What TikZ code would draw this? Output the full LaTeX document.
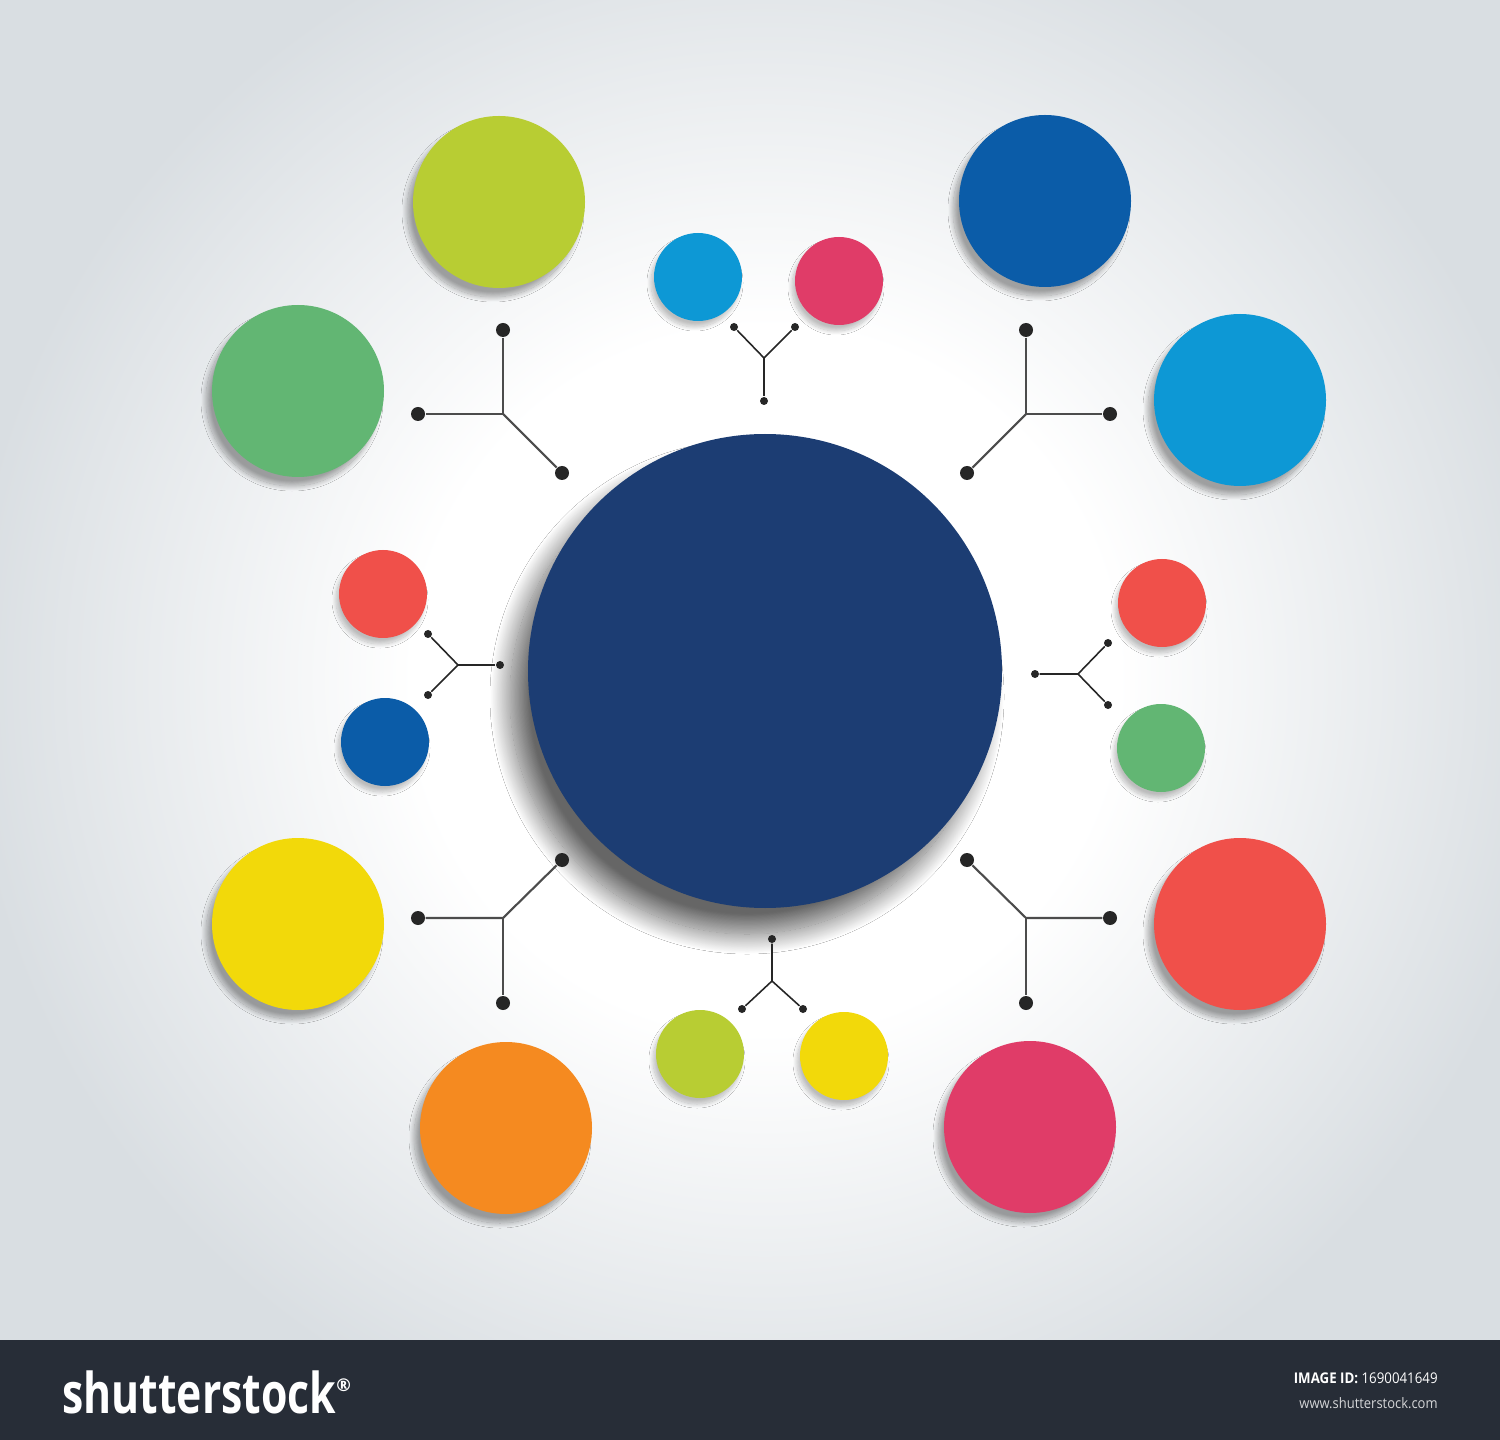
\documentclass[tikz,border=0pt]{standalone}
\usepackage{fontspec}
\setmainfont{Open Sans}
\usetikzlibrary{positioning,shadows,shadows.blur}
\definecolor{bggray}{HTML}{D9DEE2}
\definecolor{barcol}{HTML}{272D37}
\definecolor{navy}{HTML}{1C3D73}
\definecolor{lime}{HTML}{B8CD33}
\definecolor{dkblue}{HTML}{0B5CA8}
\definecolor{leaf}{HTML}{62B673}
\definecolor{sky}{HTML}{0D98D5}
\definecolor{sun}{HTML}{F2D90A}
\definecolor{tomato}{HTML}{F0504A}
\definecolor{amber}{HTML}{F58A20}
\definecolor{rose}{HTML}{E03C68}
\pgfdeclareradialshading{glow}{\pgfpoint{0bp}{0bp}}{color(0bp)=(white); color(11bp)=(white); color(25bp)=(bggray); color(50bp)=(bggray)}

\begin{document}
\begin{tikzpicture}[x=0.1mm,y=-0.1mm]
\tikzstyle{arc}=[draw=black!70,line width=0.6pt]
\tikzstyle{thinarc}=[draw=black!85,line width=0.45pt]
\tikzstyle{dot}=[circle,fill=black!85,inner sep=0pt,minimum size=1.4mm]
\tikzstyle{tinydot}=[circle,fill=black!85,inner sep=0pt,minimum size=0.8mm]
\tikzstyle{bigc}=[circle,inner sep=0pt,minimum size=17.2mm,blur shadow={shadow xshift=-0.6mm,shadow yshift=-0.9mm,shadow blur radius=0.5mm,shadow blur steps=20,shadow opacity=35}]
\tikzstyle{smallc}=[circle,inner sep=0pt,minimum size=8.8mm,blur shadow={shadow xshift=-0.3mm,shadow yshift=-0.6mm,shadow blur radius=0.4mm,shadow blur steps=16,shadow opacity=25}]
\tikzstyle{hub}=[circle,inner sep=0pt,minimum size=47.4mm,blur shadow={shadow xshift=-1.8mm,shadow yshift=-2.6mm,shadow blur radius=2mm,shadow blur steps=36,shadow opacity=60}]
\useasboundingbox (0,0) rectangle (1500,1440);
%% background %%
\fill[bggray] (0,0) rectangle (1500,1340);
\begin{scope}
\clip (0,0) rectangle (1500,1340);
\shade[shading=glow] (765,680) circle (800);
\end{scope}
\fill[barcol] (0,1340) rectangle (1500,1440);
\node[text=white,anchor=west,font=\fontsize{16}{20}\selectfont\bfseries] at (50,1392) (LOGO) {\scalebox{0.76}[1]{shutterstock}\textsuperscript{\tiny ®}};
\node[text=white,anchor=east,font=\fontsize{4.2}{5}\selectfont] at (1450,1378) (ID) {\scalebox{0.9}[1]{\textbf{IMAGE ID:} 1690041649}};
\node[text=white!80!barcol,anchor=east,font=\fontsize{4.1}{5}\selectfont] at (1450,1403) (WWW) {\scalebox{0.9}[1]{www.shutterstock.com}};
%% circles %%
\node[hub,fill=navy] at (765,671) (C0) {};
\node[bigc,fill=lime] at (499,202) (B1) {};
\node[bigc,fill=dkblue] at (1045,201) (B2) {};
\node[bigc,fill=leaf] at (298,391) (B3) {};
\node[bigc,fill=sky] at (1240,400) (B4) {};
\node[bigc,fill=sun] at (298,924) (B5) {};
\node[bigc,fill=tomato] at (1240,924) (B6) {};
\node[bigc,fill=amber] at (506,1128) (B7) {};
\node[bigc,fill=rose] at (1030,1127) (B8) {};
\node[smallc,fill=sky] at (698,277) (S1) {};
\node[smallc,fill=rose] at (839,281) (S2) {};
\node[smallc,fill=tomato] at (383,594) (S3) {};
\node[smallc,fill=dkblue] at (385,742) (S4) {};
\node[smallc,fill=tomato] at (1162,603) (S5) {};
\node[smallc,fill=leaf] at (1161,748) (S6) {};
\node[smallc,fill=lime] at (700,1054) (S7) {};
\node[smallc,fill=sun] at (844,1056) (S8) {};
%% big connectors %%
\coordinate (J1) at (503,414);
\coordinate (J2) at (1026,414);
\coordinate (J3) at (503,918);
\coordinate (J4) at (1026,918);
\node[dot] at (503,330) (D1) {};
\node[dot] at (418,414) (D2) {};
\node[dot] at (562,473) (D3) {};
\node[dot] at (1026,330) (D4) {};
\node[dot] at (1110,414) (D5) {};
\node[dot] at (967,473) (D6) {};
\node[dot] at (562,860) (D7) {};
\node[dot] at (418,918) (D8) {};
\node[dot] at (503,1003) (D9) {};
\node[dot] at (967,860) (D10) {};
\node[dot] at (1110,918) (D11) {};
\node[dot] at (1026,1003) (D12) {};
\draw[arc] (D1) -- (J1) -- (D2);
\draw[arc] (J1) -- (D3);
\draw[arc] (D4) -- (J2) -- (D5);
\draw[arc] (J2) -- (D6);
\draw[arc] (D7) -- (J3) -- (D8);
\draw[arc] (J3) -- (D9);
\draw[arc] (D10) -- (J4) -- (D11);
\draw[arc] (J4) -- (D12);
%% small connectors %%
\coordinate (J5) at (764,358);
\coordinate (J6) at (458,665);
\coordinate (J7) at (1078,674);
\coordinate (J8) at (772,981);
\node[tinydot] at (734,327) (E1) {};
\node[tinydot] at (795,327) (E2) {};
\node[tinydot] at (764,401) (E3) {};
\node[tinydot] at (428,634) (E4) {};
\node[tinydot] at (428,695) (E5) {};
\node[tinydot] at (500,665) (E6) {};
\node[tinydot] at (1035,674) (E7) {};
\node[tinydot] at (1108,643) (E8) {};
\node[tinydot] at (1108,705) (E9) {};
\node[tinydot] at (772,939) (E10) {};
\node[tinydot] at (742,1009) (E11) {};
\node[tinydot] at (803,1009) (E12) {};
\draw[thinarc] (E1) -- (J5) -- (E2);
\draw[thinarc] (J5) -- (E3);
\draw[thinarc] (E4) -- (J6) -- (E5);
\draw[thinarc] (J6) -- (E6);
\draw[thinarc] (E7) -- (J7) -- (E8);
\draw[thinarc] (J7) -- (E9);
\draw[thinarc] (E10) -- (J8) -- (E11);
\draw[thinarc] (J8) -- (E12);
\end{tikzpicture}
\end{document}
